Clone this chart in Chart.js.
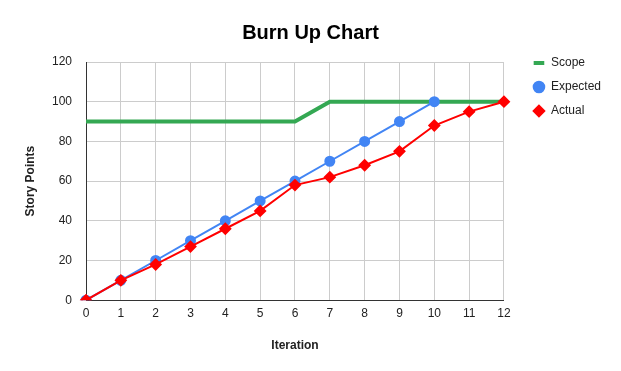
<!DOCTYPE html>
<html>
<head>
<meta charset="utf-8">
<script src="https://cdn.jsdelivr.net/npm/chart.js@4"></script>
<style>
  body { margin: 0; background: #fff; }
  #wrap { width: 621px; height: 371px; }
</style>
</head>
<body>
<div id="wrap"><canvas id="myChart"></canvas></div>
<script>
const iterations = ['0', '1', '2', '3', '4', '5', '6', '7', '8', '9', '10', '11', '12'];
const scope = [90, 90, 90, 90, 90, 90, 90, 100, 100, 100, 100, 100, 100];
const expected = [0, 10, 20, 30, 40, 50, 60, 70, 80, 90, 100, null, null];
const actual = [0, 10, 18, 27, 36, 45, 58, 62, 68, 75, 88, 95, 100];

Chart.defaults.font.family = '"Liberation Sans", Arial, sans-serif';
Chart.defaults.font.size = 12;
Chart.defaults.color = '#222';

const ctx = document.getElementById('myChart');

new Chart(ctx, {
  type: 'line',
  data: {
    labels: iterations,
    datasets: [
      {
        label: 'Scope',
        data: scope,
        order: 2,
        borderColor: '#34a853',
        backgroundColor: '#34a853',
        borderWidth: 4,
        pointRadius: 0,
        pointHoverRadius: 0,
        pointStyle: 'line',
        pointBorderWidth: 4
      },
      {
        label: 'Expected',
        data: expected,
        order: 1,
        borderColor: '#4285f4',
        backgroundColor: '#4285f4',
        borderWidth: 2,
        pointRadius: 4.5,
        pointStyle: 'circle'
      },
      {
        label: 'Actual',
        data: actual,
        order: 0,
        borderColor: '#ff0000',
        backgroundColor: '#ff0000',
        borderWidth: 2,
        pointRadius: 5,
        pointStyle: 'rectRot'
      }
    ]
  },
  options: {
    responsive: true,
    maintainAspectRatio: false,
    animation: false,
    layout: { padding: { left: 10, right: 10, top: 6, bottom: 14 } },
    plugins: {
      title: {
        display: true,
        text: 'Burn Up Chart',
        color: '#000',
        font: { size: 20, weight: 'bold' },
        padding: { top: 15, bottom: 17 }
      },
      legend: {
        position: 'right',
        align: 'start',
        title: {
          display: true,
          text: ' ',
          font: { size: 10 },
          padding: { top: 27, bottom: 0 }
        },
        labels: {
          usePointStyle: true,
          boxHeight: 7.5,
          padding: 12,
          color: '#222',
          font: { size: 12 },
          sort: (a, b) => a.datasetIndex - b.datasetIndex
        }
      },
      tooltip: { enabled: false }
    },
    scales: {
      x: {
        offset: false,
        grid: { color: '#cccccc', drawTicks: false },
        border: { color: '#333', width: 1 },
        ticks: { padding: 6, color: '#222' },
        title: {
          display: true,
          text: 'Iteration',
          color: '#222',
          font: { size: 12, weight: 'bold' },
          padding: { top: 12 }
        }
      },
      y: {
        min: 0,
        max: 120,
        afterFit: (scale) => { scale.width = 76; },
        ticks: { stepSize: 20, padding: 14, color: '#222' },
        grid: { color: '#cccccc', drawTicks: false },
        border: { color: '#333', width: 1 },
        title: {
          display: true,
          text: 'Story Points',
          color: '#222',
          font: { size: 12, weight: 'bold' },
          padding: { top: 13, bottom: 0 }
        }
      },
      // empty right axis, only keeps a gap before the legend
      gap: {
        type: 'linear',
        position: 'right',
        afterFit: (scale) => { scale.width = 17; },
        grid: { display: false },
        border: { display: false },
        ticks: { display: false }
      }
    }
  }
});
</script>
</body>
</html>
